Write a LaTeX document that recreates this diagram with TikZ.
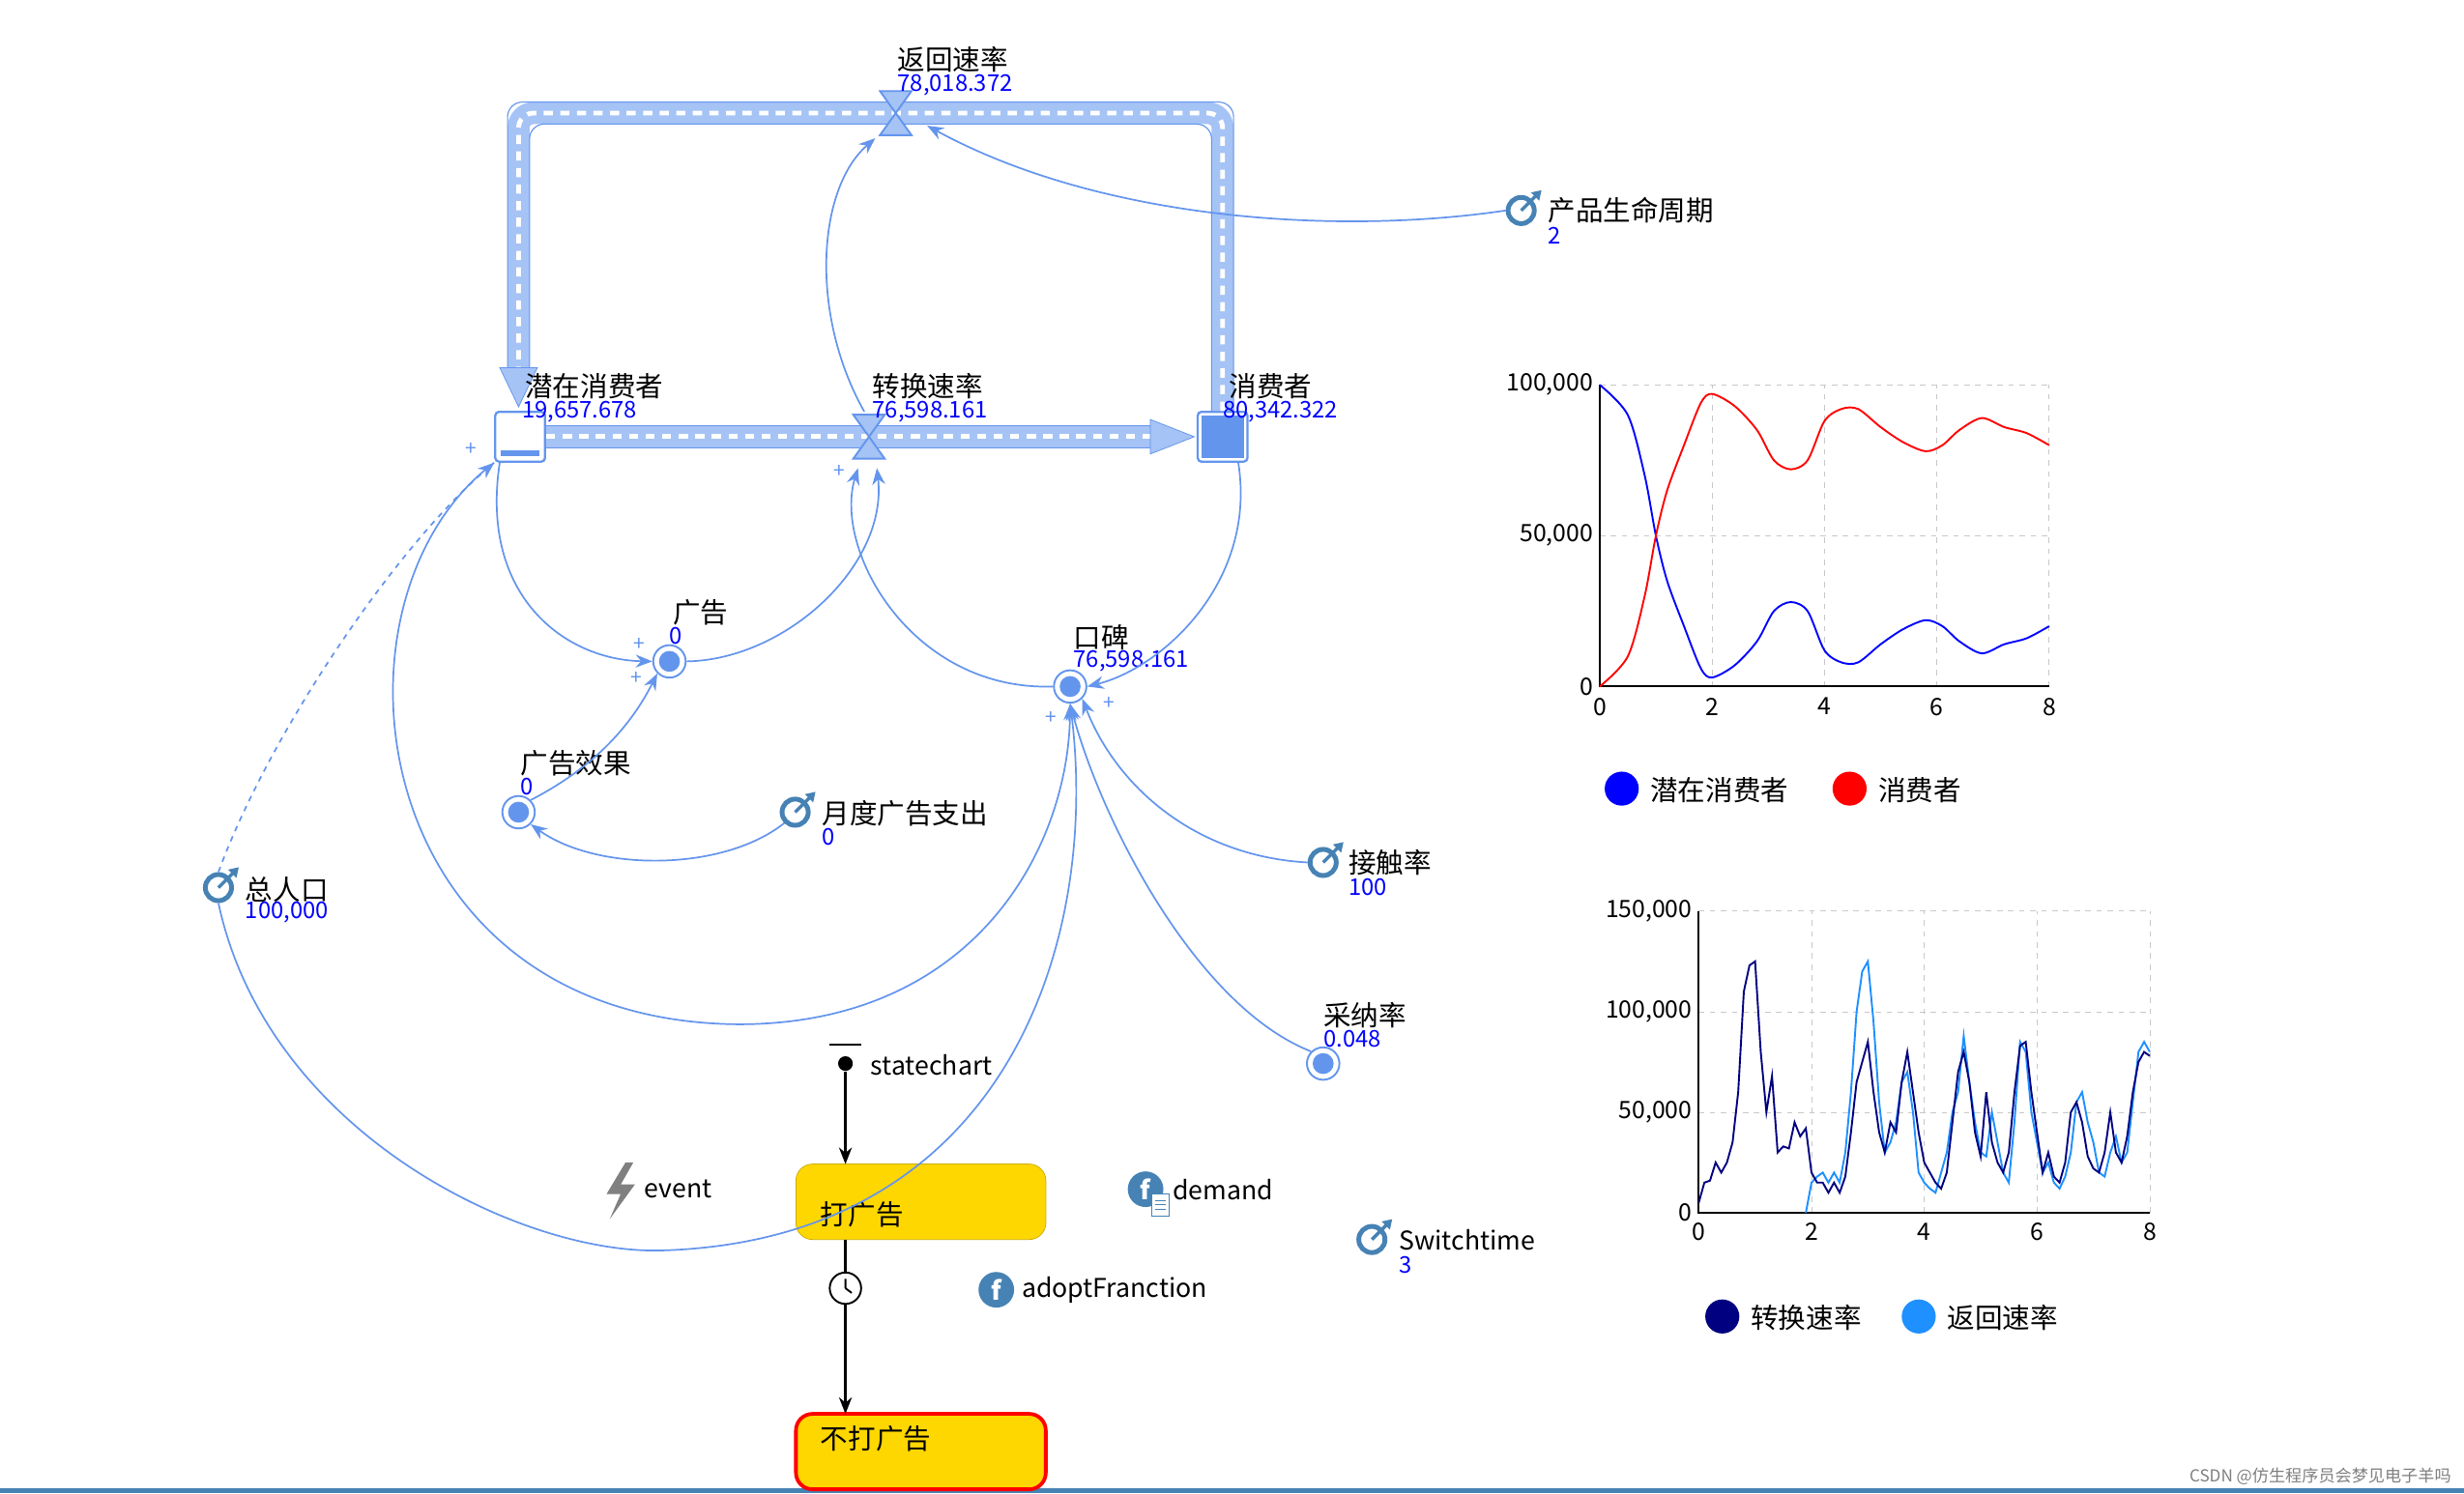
\documentclass[tikz,border=0pt]{standalone}
\usepackage{fontspec}
\setmainfont{Noto Sans CJK SC}
\usetikzlibrary{arrows.meta}
\definecolor{linkc}{RGB}{100,149,237}
\definecolor{pipec}{RGB}{165,195,245}
\definecolor{steel}{RGB}{70,130,180}
\definecolor{stateyel}{RGB}{255,215,0}
\definecolor{gridc}{RGB}{200,200,200}
\definecolor{navyc}{RGB}{0,0,128}
\definecolor{dodger}{RGB}{30,144,255}
\tikzset{
  link/.style={draw=linkc, line width=0.9pt, -{Stealth[length=9pt,width=7pt]}},
  lbl/.style={anchor=west, inner sep=0pt, font=\fontsize{15}{17}\selectfont},
  val/.style={anchor=west, inner sep=0pt, text=blue, font=\fontsize{12.5}{14}\selectfont},
  txt/.style={anchor=west, inner sep=0pt, font=\fontsize{14}{16}\selectfont},
  tick/.style={inner sep=1pt, font=\fontsize{13}{15}\selectfont},
  plus/.style={text=linkc, inner sep=0pt, font=\fontsize{11}{12}\selectfont},
  stock/.style={draw=linkc, line width=1.2pt, fill=white, rounded corners=2pt, minimum size=0.95cm, inner sep=0pt},
  param/.style={circle, draw=steel, line width=2.6pt, minimum size=0.5cm, inner sep=0pt},
  aux/.style={circle, draw=linkc, line width=1pt, fill=white, minimum size=0.62cm, inner sep=0pt,
    path picture={\fill[linkc] (path picture bounding box.center) circle (0.2cm);}},
  func/.style={circle, fill=steel, minimum size=0.68cm, inner sep=0pt, text=white,
    font=\bfseries\itshape\fontsize{14}{14}\selectfont},
  state/.style={draw=stateyel!80!black, fill=stateyel, rounded corners=9pt, minimum width=4.77cm, minimum height=1.44cm},
  dot/.style={circle, minimum size=0.65cm, inner sep=0pt}
}
\begin{document}
\begin{tikzpicture}[x=0.03cm, y=-0.03cm]
\useasboundingbox (0,0) rectangle (1568,951);
\fill[white] (0,0) rectangle (1568,951);
\draw[steel, line width=2.5pt] (0,949) -- (1568,949);

% statechart
\draw[line width=1.5pt] (528,665) -- (548,665);
\node[circle, fill=black, minimum size=0.28cm, inner sep=0pt] (init) at (538,677) {};
\node[txt] at (554,678) {statechart};
\node[state] (s1) at (586,765) {};
\node[lbl] at (522,773) {打广告};
\node[state, draw=red, line width=2pt] (s2) at (586,924) {};
\node[lbl] at (522,916) {不打广告};
\draw[line width=1.2pt, -{Stealth[length=9pt,width=7pt]}] (init) -- (538,741);
\node[circle, draw=black, fill=white, line width=1pt, minimum size=0.6cm, inner sep=0pt] (clk) at (538,820) {};
\draw[line width=1pt] (clk.center) -- ++(0,-6) (clk.center) -- ++(4,3);
\draw[line width=1.2pt] (538,789) -- (clk.north);
\draw[line width=1.2pt, -{Stealth[length=9pt,width=7pt]}] (clk.south) -- (538,900);

% stocks and flows
\node[stock] (pot) at (331,278) {};
\fill[linkc] ([shift={(4,-4)}]pot.south west) rectangle ([shift={(-4,-8)}]pot.south east);
\node[stock] (cons) at (778,278) {};
\fill[linkc] ([shift={(3,-3)}]cons.south west) rectangle ([shift={(-3,3)}]cons.north east);
\coordinate (v1) at (553,278);
\coordinate (v2) at (570,72);
\draw[pipec, line width=0.42cm, rounded corners=8pt] (cons.north) -- (778,72) -- (330,72) -- (330,236);
\draw[white, line width=0.09cm, dash pattern=on 5pt off 4pt, rounded corners=8pt] (cons.north) -- (778,72) -- (330,72) -- (330,236);
\draw[linkc, line width=0.6pt, rounded corners=8pt] (771,262) -- (771,79) -- (337,79) -- (337,236) (785,262) -- (785,65) -- (323,65) -- (323,236);
\draw[pipec, line width=0.42cm] (pot.east) -- (732,278);
\draw[white, line width=0.09cm, dash pattern=on 5pt off 4pt] (pot.east) -- (732,278);
\draw[linkc, line width=0.6pt] (347,271) -- (732,271) (347,285) -- (732,285);
\draw[fill=pipec, draw=linkc] (318,234) -- (342,234) -- (330,259) -- cycle;
\draw[fill=pipec, draw=linkc] (732,267) -- (732,289) -- (760,278) -- cycle;
\foreach \v in {v1,v2}
  \draw[fill=pipec, draw=linkc, line width=1pt] ([shift={(-10,-14)}]\v) -- ([shift={(10,-14)}]\v) -- ([shift={(-10,14)}]\v) -- ([shift={(10,14)}]\v) -- cycle;

\node[lbl] at (571,38) {返回速率};
\node[val] at (571,54) {78,018.372};
\node[lbl] at (555,246) {转换速率};
\node[val] at (555,262) {76,598.161};
\node[lbl] at (334,246) {潜在消费者};
\node[val] at (332,262) {19,657.678};
\node[lbl] at (782,246) {消费者};
\node[val] at (778,262) {80,342.322};

% parameters and variables
\node[param] (cyc) at (968,134) {};
\node[lbl] at (985,134) {产品生命周期};
\node[val] at (985,150) {2};
\node[aux] (ad) at (426,421) {};
\node[lbl] at (428,390) {广告};
\node[val] at (426,405) {0};
\node[aux] (wom) at (681,437) {};
\node[lbl] at (683,406) {口碑};
\node[val] at (683,421) {76,598.161};
\node[aux] (eff) at (330,517) {};
\node[lbl] at (331,486) {广告效果};
\node[val] at (331,501) {0};
\node[param] (spend) at (506,517) {};
\node[lbl] at (523,518) {月度广告支出};
\node[val] at (523,533) {0};
\node[param] (pop) at (139,565) {};
\node[lbl] at (156,566) {总人口};
\node[val] at (156,581) {100,000};
\node[param] (cr) at (842,549) {};
\node[lbl] at (858,549) {接触率};
\node[val] at (858,565) {100};
\node[aux] (ar) at (842,677) {};
\node[lbl] at (842,646) {采纳率};
\node[val] at (842,661) {0.048};
\node[param] (sw) at (873,789) {};
\node[txt] at (890,789) {Switchtime};
\node[val] at (890,805) {3};
\foreach \p in {cyc,spend,pop,cr,sw}
  \draw[steel, line width=1.8pt, -{Triangle[length=5pt,width=6pt]}] (\p.center) -- ([shift={(6,-6)}]\p.north east);

% links
\draw[link] (cyc.west) .. controls (850,150) and (700,140) .. (590,80);
\draw[link] (v1) ++(-3,-16) .. controls (515,200) and (520,120) .. (557,88);
\draw[link] (pot.south) ++(-13,0) .. controls (305,380) and (360,420) .. (ad.west);
\draw[link] (ad.east) .. controls (500,420) and (565,360) .. (558,298);
\draw[link] (cons.south) ++(10,0) .. controls (800,370) and (740,425) .. (wom.east);
\draw[link] (wom.west) .. controls (580,440) and (530,350) .. (546,298);
\draw[link] (eff.north east) .. controls (375,490) and (400,465) .. (ad.south west);
\draw[link] (spend.south west) .. controls (460,555) and (380,555) .. (eff.south east);
\draw[link, dashed] (pop.north) .. controls (170,470) and (250,350) .. (pot.south west);
\draw[link] (pot.south west) .. controls (200,380) and (230,650) .. (470,652) .. controls (620,652) and (680,540) .. (wom.south);
\draw[link] (pop.south) .. controls (170,720) and (330,798) .. (420,796) .. controls (640,790) and (700,600) .. (wom.south);
\draw[link] (cr.west) .. controls (760,545) and (710,500) .. (wom.south east);
\draw[link] (ar.north west) .. controls (760,640) and (700,520) .. (wom.south);
\foreach \x/\y in {300/286,407/410,405/432,534/300,669/457,706/448}
  \node[plus] at (\x,\y) {+};

% other elements
\fill[gray] (398,740) -- (386,760) -- (395,760) -- (388,776) -- (404,754) -- (395,754) -- (403,740) -- cycle;
\node[txt] at (410,757) {event};
\node[func] (fd) at (729,757) {f};
\fill[white, draw=steel] (733,760) rectangle (744,774);
\draw[steel] (735,764) -- (742,764) (735,767) -- (742,767) (735,770) -- (742,770);
\node[txt] at (746,757) {demand};
\node[func] (fa) at (634,821) {f};
\node[txt] at (650,821) {adoptFranction};

% chart 1
\begin{scope}[shift={(1018,437)}, x=1.0725cm, y=0.0576cm]
  \draw[gridc, dashed] (2,0) -- (2,100) (4,0) -- (4,100) (6,0) -- (6,100) (8,0) -- (8,100) (0,50) -- (8,50) (0,100) -- (8,100);
  \draw[line width=1pt] (0,100) -- (0,0) -- (8,0);
  \foreach \x in {0,2,4,6,8} \node[tick, below] at (\x,-3) {\x};
  \foreach \y/\t in {0/0,50/{50,000},100/{100,000}} \node[tick, left] at (-0.08,\y) {\t};
  \draw[blue, line width=1pt, smooth] plot coordinates {(0,100) (0.5,90) (0.8,70) (1,50) (1.2,35) (1.5,20) (1.8,6) (2,3) (2.4,7) (2.8,15) (3.1,25) (3.4,28) (3.7,25) (4,12) (4.3,8) (4.6,8) (5,14) (5.4,19) (5.8,22) (6.1,20) (6.4,15) (6.8,11) (7.2,14) (7.6,16) (8,20)};
  \draw[red, line width=1pt, smooth] plot coordinates {(0,0) (0.5,10) (0.8,30) (1,50) (1.2,65) (1.5,80) (1.8,94) (2,97) (2.4,93) (2.8,85) (3.1,75) (3.4,72) (3.7,75) (4,88) (4.3,92) (4.6,92) (5,86) (5.4,81) (5.8,78) (6.1,80) (6.4,85) (6.8,89) (7.2,86) (7.6,84) (8,80)};
\end{scope}
\node[dot, fill=blue] (lg1) at (1032,502) {};
\node[lbl] at (1050,503) {潜在消费者};
\node[dot, fill=red] (lg2) at (1177,502) {};
\node[lbl] at (1195,503) {消费者};

% chart 2
\begin{scope}[shift={(1081,772)}, x=1.07625cm, y=0.0384cm]
  \draw[gridc, dashed] (2,0) -- (2,150) (4,0) -- (4,150) (6,0) -- (6,150) (8,0) -- (8,150) (0,50) -- (8,50) (0,100) -- (8,100) (0,150) -- (8,150);
  \draw[line width=1pt] (0,150) -- (0,0) -- (8,0);
  \foreach \x in {0,2,4,6,8} \node[tick, below] at (\x,-4) {\x};
  \foreach \y/\t in {0/0,50/{50,000},100/{100,000},150/{150,000}} \node[tick, left] at (-0.08,\y) {\t};
  \draw[dodger, line width=1pt] plot coordinates {(1.9,0) (2.0,15) (2.1,18) (2.2,20) (2.3,15) (2.4,20) (2.5,15) (2.6,30) (2.7,60) (2.8,100) (2.9,120) (3.0,125) (3.1,95) (3.2,55) (3.3,30) (3.4,35) (3.5,45) (3.6,65) (3.7,70) (3.8,50) (3.9,20) (4.0,15) (4.1,12) (4.2,10) (4.3,20) (4.4,30) (4.5,50) (4.6,60) (4.7,88) (4.8,65) (4.9,45) (5.0,30) (5.1,28) (5.2,50) (5.3,35) (5.4,20) (5.5,15) (5.6,45) (5.7,85) (5.8,80) (5.9,50) (6.0,35) (6.1,20) (6.2,25) (6.3,15) (6.4,12) (6.5,18) (6.6,30) (6.7,55) (6.8,60) (6.9,45) (7.0,35) (7.1,20) (7.2,18) (7.3,30) (7.4,38) (7.5,25) (7.6,30) (7.7,55) (7.8,80) (7.9,85) (8.0,80)};
  \draw[navyc, line width=1pt] plot coordinates {(0,5) (0.1,15) (0.2,16) (0.3,25) (0.4,20) (0.5,25) (0.6,35) (0.7,60) (0.8,110) (0.9,123) (1.0,125) (1.1,80) (1.2,50) (1.3,68) (1.4,30) (1.5,33) (1.6,32) (1.7,45) (1.8,38) (1.9,42) (2.0,20) (2.1,15) (2.2,15) (2.3,10) (2.4,15) (2.5,10) (2.6,18) (2.7,40) (2.8,65) (2.9,75) (3.0,85) (3.1,60) (3.2,40) (3.3,30) (3.4,45) (3.5,40) (3.6,65) (3.7,80) (3.8,60) (3.9,40) (4.0,25) (4.1,20) (4.2,15) (4.3,12) (4.4,20) (4.5,45) (4.6,70) (4.7,80) (4.8,65) (4.9,40) (5.0,28) (5.1,60) (5.2,35) (5.3,25) (5.4,20) (5.5,30) (5.6,60) (5.7,83) (5.8,85) (5.9,60) (6.0,40) (6.1,20) (6.2,30) (6.3,18) (6.4,15) (6.5,25) (6.6,50) (6.7,55) (6.8,45) (6.9,28) (7.0,22) (7.1,20) (7.2,30) (7.3,50) (7.4,30) (7.5,25) (7.6,38) (7.7,60) (7.8,75) (7.9,80) (8.0,78)};
\end{scope}
\node[dot, fill=navyc] (lg3) at (1096,838) {};
\node[lbl] at (1114,839) {转换速率};
\node[dot, fill=dodger] (lg4) at (1221,838) {};
\node[lbl] at (1239,839) {返回速率};

\node[anchor=east, inner sep=0pt, text=gray, font=\fontsize{9}{10}\selectfont] at (1560,940) {CSDN @仿生程序员会梦见电子羊吗};
\end{tikzpicture}
\end{document}
